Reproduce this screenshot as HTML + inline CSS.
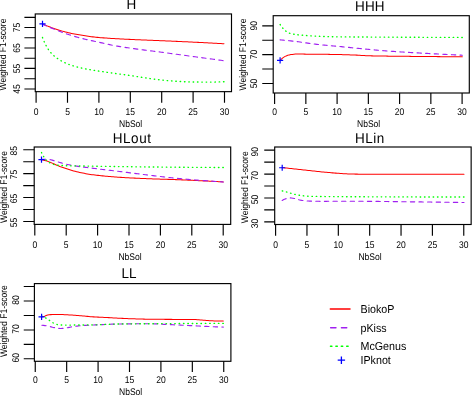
<!DOCTYPE html>
<html><head><meta charset="utf-8"><title>Weighted F1-score plots</title>
<style>html,body{margin:0;padding:0;background:#fff;overflow:hidden}svg{display:block}</style></head>
<body>
<svg width="472" height="395" viewBox="0 0 472 395" style="display:block">
<rect width="472" height="395" fill="#fff"/>
<g font-family="&quot;Liberation Sans&quot;, sans-serif" fill="#000" stroke="none" text-rendering="geometricPrecision">
<g><path d="M42.50,24.00 L44.03,24.65 L45.55,25.28 L47.08,25.89 L48.60,26.49 L50.13,27.07 L51.65,27.63 L53.18,28.18 L54.70,28.70 L56.23,29.21 L57.75,29.71 L59.28,30.19 L60.80,30.67 L62.33,31.12 L63.85,31.56 L65.38,31.97 L66.90,32.36 L68.43,32.72 L69.95,33.06 L71.48,33.39 L73.00,33.71 L74.53,34.02 L76.05,34.31 L77.58,34.60 L79.11,34.87 L80.63,35.12 L82.16,35.37 L83.68,35.60 L85.21,35.83 L86.73,36.06 L88.26,36.28 L89.78,36.49 L91.31,36.69 L92.83,36.88 L94.36,37.06 L95.88,37.22 L97.41,37.37 L98.93,37.51 L100.46,37.64 L101.98,37.76 L103.51,37.88 L105.03,37.99 L106.56,38.10 L108.08,38.20 L109.61,38.30 L111.13,38.40 L112.66,38.49 L114.18,38.58 L115.71,38.67 L117.24,38.75 L118.76,38.83 L120.29,38.91 L121.81,38.99 L123.34,39.07 L124.86,39.15 L126.39,39.22 L127.91,39.30 L129.44,39.37 L130.96,39.45 L132.49,39.52 L134.01,39.59 L135.54,39.66 L137.06,39.72 L138.59,39.79 L140.11,39.85 L141.64,39.92 L143.16,39.98 L144.69,40.04 L146.21,40.10 L147.74,40.16 L149.26,40.22 L150.79,40.27 L152.32,40.33 L153.84,40.39 L155.37,40.45 L156.89,40.52 L158.42,40.58 L159.94,40.64 L161.47,40.71 L162.99,40.77 L164.52,40.84 L166.04,40.90 L167.57,40.97 L169.09,41.04 L170.62,41.10 L172.14,41.17 L173.67,41.24 L175.19,41.30 L176.72,41.37 L178.24,41.44 L179.77,41.50 L181.29,41.57 L182.82,41.64 L184.34,41.71 L185.87,41.78 L187.39,41.85 L188.92,41.92 L190.45,42.00 L191.97,42.07 L193.50,42.14 L195.02,42.22 L196.55,42.29 L198.07,42.37 L199.60,42.45 L201.12,42.52 L202.65,42.60 L204.17,42.68 L205.70,42.76 L207.22,42.84 L208.75,42.92 L210.27,43.00 L211.80,43.08 L213.32,43.16 L214.85,43.24 L216.37,43.33 L217.90,43.41 L219.42,43.49 L220.95,43.58 L222.47,43.66 L224.00,43.75" fill="none" stroke="#ff0000" stroke-width="1.02" stroke-linecap="round"/>
<path d="M42.50,24.20 L44.03,24.88 L45.55,25.55 L47.08,26.21 L48.60,26.86 L50.13,27.51 L51.65,28.14 L53.18,28.77 L54.70,29.38 L56.23,29.99 L57.75,30.59 L59.28,31.20 L60.80,31.79 L62.33,32.37 L63.85,32.93 L65.38,33.48 L66.90,34.00 L68.43,34.50 L69.95,34.99 L71.48,35.47 L73.00,35.94 L74.53,36.39 L76.05,36.83 L77.58,37.26 L79.11,37.68 L80.63,38.09 L82.16,38.49 L83.68,38.87 L85.21,39.24 L86.73,39.59 L88.26,39.94 L89.78,40.27 L91.31,40.60 L92.83,40.93 L94.36,41.25 L95.88,41.57 L97.41,41.90 L98.93,42.23 L100.46,42.57 L101.98,42.91 L103.51,43.25 L105.03,43.60 L106.56,43.94 L108.08,44.28 L109.61,44.62 L111.13,44.95 L112.66,45.27 L114.18,45.58 L115.71,45.87 L117.24,46.15 L118.76,46.42 L120.29,46.67 L121.81,46.91 L123.34,47.14 L124.86,47.37 L126.39,47.59 L127.91,47.80 L129.44,48.02 L130.96,48.24 L132.49,48.45 L134.01,48.66 L135.54,48.87 L137.06,49.07 L138.59,49.27 L140.11,49.47 L141.64,49.67 L143.16,49.87 L144.69,50.06 L146.21,50.26 L147.74,50.45 L149.26,50.64 L150.79,50.84 L152.32,51.03 L153.84,51.23 L155.37,51.42 L156.89,51.62 L158.42,51.82 L159.94,52.02 L161.47,52.22 L162.99,52.43 L164.52,52.63 L166.04,52.84 L167.57,53.04 L169.09,53.25 L170.62,53.45 L172.14,53.66 L173.67,53.87 L175.19,54.08 L176.72,54.28 L178.24,54.49 L179.77,54.70 L181.29,54.91 L182.82,55.12 L184.34,55.33 L185.87,55.53 L187.39,55.74 L188.92,55.95 L190.45,56.16 L191.97,56.36 L193.50,56.57 L195.02,56.78 L196.55,56.98 L198.07,57.19 L199.60,57.40 L201.12,57.60 L202.65,57.81 L204.17,58.02 L205.70,58.22 L207.22,58.43 L208.75,58.64 L210.27,58.84 L211.80,59.05 L213.32,59.26 L214.85,59.46 L216.37,59.67 L217.90,59.88 L219.42,60.08 L220.95,60.29 L222.47,60.49 L224.00,60.70" fill="none" stroke="#a020f0" stroke-width="1.15" stroke-linecap="round" stroke-dasharray="4.3 4.3"/>
<path d="M42.50,37.50 L44.03,41.35 L45.55,44.60 L47.08,47.43 L48.60,49.83 L50.13,51.81 L51.65,53.58 L53.18,55.13 L54.70,56.46 L56.23,57.62 L57.75,58.70 L59.28,59.71 L60.80,60.64 L62.33,61.50 L63.85,62.29 L65.38,63.01 L66.90,63.66 L68.43,64.26 L69.95,64.81 L71.48,65.33 L73.00,65.82 L74.53,66.28 L76.05,66.71 L77.58,67.12 L79.11,67.51 L80.63,67.87 L82.16,68.22 L83.68,68.54 L85.21,68.85 L86.73,69.14 L88.26,69.42 L89.78,69.68 L91.31,69.93 L92.83,70.18 L94.36,70.42 L95.88,70.65 L97.41,70.89 L98.93,71.12 L100.46,71.35 L101.98,71.58 L103.51,71.80 L105.03,72.02 L106.56,72.24 L108.08,72.45 L109.61,72.66 L111.13,72.87 L112.66,73.08 L114.18,73.29 L115.71,73.50 L117.24,73.71 L118.76,73.93 L120.29,74.14 L121.81,74.35 L123.34,74.57 L124.86,74.78 L126.39,74.99 L127.91,75.21 L129.44,75.42 L130.96,75.64 L132.49,75.86 L134.01,76.09 L135.54,76.32 L137.06,76.56 L138.59,76.80 L140.11,77.04 L141.64,77.28 L143.16,77.52 L144.69,77.76 L146.21,78.00 L147.74,78.23 L149.26,78.46 L150.79,78.68 L152.32,78.90 L153.84,79.11 L155.37,79.31 L156.89,79.51 L158.42,79.69 L159.94,79.86 L161.47,80.02 L162.99,80.17 L164.52,80.32 L166.04,80.46 L167.57,80.60 L169.09,80.73 L170.62,80.86 L172.14,80.98 L173.67,81.10 L175.19,81.21 L176.72,81.31 L178.24,81.40 L179.77,81.49 L181.29,81.57 L182.82,81.65 L184.34,81.72 L185.87,81.80 L187.39,81.86 L188.92,81.92 L190.45,81.96 L191.97,81.99 L193.50,82.01 L195.02,82.02 L196.55,82.04 L198.07,82.05 L199.60,82.06 L201.12,82.07 L202.65,82.08 L204.17,82.09 L205.70,82.09 L207.22,82.10 L208.75,82.10 L210.27,82.10 L211.80,82.09 L213.32,82.07 L214.85,82.05 L216.37,82.01 L217.90,81.97 L219.42,81.92 L220.95,81.86 L222.47,81.81 L224.00,81.75" fill="none" stroke="#00ff00" stroke-width="1.35" stroke-linecap="round" stroke-dasharray="0.5 3.840"/>
<path d="M39.4,23.8H45.6M42.5,20.7V26.900000000000002" fill="none" stroke="#0000ff" stroke-width="1.2"/>
<rect x="35.25" y="13.95" width="196.25" height="77.70" fill="none" stroke="#000" stroke-width="1.15"/>
<path d="M24.4,17.3H35.25M24.4,27.5H35.25M24.4,37.7H35.25M24.4,48.0H35.25M24.4,58.2H35.25M24.4,68.4H35.25M24.4,78.7H35.25M24.4,89.0H35.25M36.10,91.65V102.8M67.50,91.65V102.8M98.90,91.65V102.8M130.30,91.65V102.8M161.70,91.65V102.8M193.10,91.65V102.8M224.50,91.65V102.8" fill="none" stroke="#000" stroke-width="1.15"/>
<text transform="translate(36.10,114.9) scale(0.88,1)" font-size="9.7" text-anchor="middle">0</text>
<text transform="translate(67.50,114.9) scale(0.88,1)" font-size="9.7" text-anchor="middle">5</text>
<text transform="translate(98.90,114.9) scale(0.88,1)" font-size="9.7" text-anchor="middle">10</text>
<text transform="translate(130.30,114.9) scale(0.88,1)" font-size="9.7" text-anchor="middle">15</text>
<text transform="translate(161.70,114.9) scale(0.88,1)" font-size="9.7" text-anchor="middle">20</text>
<text transform="translate(193.10,114.9) scale(0.88,1)" font-size="9.7" text-anchor="middle">25</text>
<text transform="translate(224.50,114.9) scale(0.88,1)" font-size="9.7" text-anchor="middle">30</text>
<text transform="translate(20.0,27.50) rotate(-90) scale(0.88,1)" font-size="9.7" text-anchor="middle">75</text>
<text transform="translate(20.0,48.00) rotate(-90) scale(0.88,1)" font-size="9.7" text-anchor="middle">65</text>
<text transform="translate(20.0,68.40) rotate(-90) scale(0.88,1)" font-size="9.7" text-anchor="middle">55</text>
<text transform="translate(20.0,89.00) rotate(-90) scale(0.88,1)" font-size="9.7" text-anchor="middle">45</text>
<text transform="translate(6.4,54.5) rotate(-90) scale(0.88,1)" font-size="9.7" text-anchor="middle">Weighted F1-score</text>
<text transform="translate(130.6,126.6) scale(0.88,1)" font-size="9.7" text-anchor="middle">NbSol</text>
<text transform="translate(131.43,9.45) scale(0.95,1)" font-size="14.2" letter-spacing="0.26" text-anchor="middle">H</text></g>
<g><path d="M280.10,60.30 L281.63,58.90 L283.16,57.70 L284.69,56.65 L286.22,55.90 L287.76,55.33 L289.29,54.88 L290.82,54.59 L292.35,54.39 L293.88,54.22 L295.41,54.10 L296.94,54.05 L298.47,54.05 L300.00,54.07 L301.54,54.08 L303.07,54.11 L304.60,54.13 L306.13,54.15 L307.66,54.18 L309.19,54.20 L310.72,54.21 L312.25,54.23 L313.78,54.24 L315.32,54.25 L316.85,54.27 L318.38,54.28 L319.91,54.29 L321.44,54.30 L322.97,54.31 L324.50,54.33 L326.03,54.34 L327.56,54.36 L329.09,54.38 L330.63,54.39 L332.16,54.42 L333.69,54.44 L335.22,54.47 L336.75,54.50 L338.28,54.54 L339.81,54.57 L341.34,54.61 L342.87,54.65 L344.41,54.70 L345.94,54.75 L347.47,54.79 L349.00,54.84 L350.53,54.90 L352.06,54.95 L353.59,55.01 L355.12,55.07 L356.65,55.13 L358.19,55.21 L359.72,55.30 L361.25,55.40 L362.78,55.50 L364.31,55.60 L365.84,55.69 L367.37,55.76 L368.90,55.81 L370.43,55.85 L371.97,55.88 L373.50,55.91 L375.03,55.94 L376.56,55.97 L378.09,55.99 L379.62,56.02 L381.15,56.04 L382.68,56.06 L384.21,56.08 L385.75,56.10 L387.28,56.12 L388.81,56.14 L390.34,56.15 L391.87,56.17 L393.40,56.19 L394.93,56.21 L396.46,56.23 L397.99,56.25 L399.53,56.26 L401.06,56.28 L402.59,56.30 L404.12,56.31 L405.65,56.33 L407.18,56.34 L408.71,56.36 L410.24,56.37 L411.77,56.39 L413.31,56.40 L414.84,56.42 L416.37,56.43 L417.90,56.44 L419.43,56.46 L420.96,56.47 L422.49,56.48 L424.02,56.50 L425.55,56.51 L427.08,56.52 L428.62,56.54 L430.15,56.55 L431.68,56.56 L433.21,56.58 L434.74,56.59 L436.27,56.60 L437.80,56.62 L439.33,56.63 L440.86,56.64 L442.40,56.65 L443.93,56.67 L445.46,56.68 L446.99,56.69 L448.52,56.70 L450.05,56.71 L451.58,56.72 L453.11,56.74 L454.64,56.75 L456.18,56.76 L457.71,56.77 L459.24,56.78 L460.77,56.79 L462.30,56.80" fill="none" stroke="#ff0000" stroke-width="1.02" stroke-linecap="round"/>
<path d="M280.10,39.90 L281.63,40.02 L283.16,40.15 L284.69,40.28 L286.22,40.43 L287.76,40.58 L289.29,40.73 L290.82,40.90 L292.35,41.06 L293.88,41.24 L295.41,41.41 L296.94,41.59 L298.47,41.79 L300.00,42.00 L301.54,42.22 L303.07,42.45 L304.60,42.69 L306.13,42.92 L307.66,43.15 L309.19,43.36 L310.72,43.56 L312.25,43.76 L313.78,43.95 L315.32,44.14 L316.85,44.33 L318.38,44.51 L319.91,44.68 L321.44,44.84 L322.97,45.00 L324.50,45.14 L326.03,45.27 L327.56,45.40 L329.09,45.53 L330.63,45.67 L332.16,45.81 L333.69,45.95 L335.22,46.09 L336.75,46.23 L338.28,46.38 L339.81,46.53 L341.34,46.68 L342.87,46.83 L344.41,46.98 L345.94,47.13 L347.47,47.28 L349.00,47.43 L350.53,47.59 L352.06,47.74 L353.59,47.90 L355.12,48.05 L356.65,48.20 L358.19,48.36 L359.72,48.51 L361.25,48.66 L362.78,48.81 L364.31,48.96 L365.84,49.11 L367.37,49.26 L368.90,49.40 L370.43,49.55 L371.97,49.69 L373.50,49.83 L375.03,49.97 L376.56,50.11 L378.09,50.25 L379.62,50.38 L381.15,50.51 L382.68,50.63 L384.21,50.76 L385.75,50.88 L387.28,51.00 L388.81,51.11 L390.34,51.22 L391.87,51.33 L393.40,51.44 L394.93,51.54 L396.46,51.65 L397.99,51.75 L399.53,51.85 L401.06,51.95 L402.59,52.04 L404.12,52.14 L405.65,52.23 L407.18,52.32 L408.71,52.41 L410.24,52.50 L411.77,52.59 L413.31,52.68 L414.84,52.77 L416.37,52.85 L417.90,52.94 L419.43,53.02 L420.96,53.11 L422.49,53.19 L424.02,53.28 L425.55,53.36 L427.08,53.44 L428.62,53.53 L430.15,53.61 L431.68,53.69 L433.21,53.77 L434.74,53.85 L436.27,53.93 L437.80,54.01 L439.33,54.09 L440.86,54.17 L442.40,54.25 L443.93,54.33 L445.46,54.40 L446.99,54.48 L448.52,54.55 L450.05,54.63 L451.58,54.70 L453.11,54.78 L454.64,54.85 L456.18,54.92 L457.71,54.99 L459.24,55.06 L460.77,55.13 L462.30,55.20" fill="none" stroke="#a020f0" stroke-width="1.15" stroke-linecap="round" stroke-dasharray="4.3 4.3"/>
<path d="M280.10,24.50 L281.63,26.77 L283.16,28.64 L284.69,30.22 L286.22,31.44 L287.76,32.44 L289.29,33.18 L290.82,33.63 L292.35,33.98 L293.88,34.25 L295.41,34.48 L296.94,34.68 L298.47,34.86 L300.00,35.01 L301.54,35.15 L303.07,35.28 L304.60,35.41 L306.13,35.52 L307.66,35.63 L309.19,35.73 L310.72,35.82 L312.25,35.91 L313.78,36.00 L315.32,36.08 L316.85,36.16 L318.38,36.24 L319.91,36.32 L321.44,36.40 L322.97,36.48 L324.50,36.55 L326.03,36.61 L327.56,36.67 L329.09,36.71 L330.63,36.74 L332.16,36.77 L333.69,36.79 L335.22,36.80 L336.75,36.82 L338.28,36.84 L339.81,36.86 L341.34,36.87 L342.87,36.89 L344.41,36.90 L345.94,36.91 L347.47,36.93 L349.00,36.94 L350.53,36.95 L352.06,36.96 L353.59,36.97 L355.12,36.98 L356.65,36.99 L358.19,37.00 L359.72,37.01 L361.25,37.02 L362.78,37.02 L364.31,37.03 L365.84,37.04 L367.37,37.05 L368.90,37.05 L370.43,37.06 L371.97,37.07 L373.50,37.07 L375.03,37.08 L376.56,37.09 L378.09,37.09 L379.62,37.10 L381.15,37.11 L382.68,37.11 L384.21,37.12 L385.75,37.13 L387.28,37.14 L388.81,37.14 L390.34,37.15 L391.87,37.16 L393.40,37.17 L394.93,37.18 L396.46,37.18 L397.99,37.19 L399.53,37.20 L401.06,37.21 L402.59,37.21 L404.12,37.22 L405.65,37.23 L407.18,37.24 L408.71,37.24 L410.24,37.25 L411.77,37.26 L413.31,37.27 L414.84,37.27 L416.37,37.28 L417.90,37.29 L419.43,37.29 L420.96,37.30 L422.49,37.31 L424.02,37.31 L425.55,37.32 L427.08,37.33 L428.62,37.33 L430.15,37.34 L431.68,37.35 L433.21,37.35 L434.74,37.36 L436.27,37.36 L437.80,37.37 L439.33,37.38 L440.86,37.38 L442.40,37.39 L443.93,37.39 L445.46,37.40 L446.99,37.40 L448.52,37.41 L450.05,37.41 L451.58,37.42 L453.11,37.42 L454.64,37.43 L456.18,37.43 L457.71,37.44 L459.24,37.44 L460.77,37.45 L462.30,37.45" fill="none" stroke="#00ff00" stroke-width="1.35" stroke-linecap="round" stroke-dasharray="0.5 3.816"/>
<path d="M277.0,60.3H283.20000000000005M280.1,57.199999999999996V63.4" fill="none" stroke="#0000ff" stroke-width="1.2"/>
<rect x="273.2" y="15.7" width="196.10" height="77.30" fill="none" stroke="#000" stroke-width="1.15"/>
<path d="M262.25,25.8H273.2M262.25,40.2H273.2M262.25,54.6H273.2M262.25,69.0H273.2M262.25,83.5H273.2M274.60,93.0V104.0M305.85,93.0V104.0M337.10,93.0V104.0M368.35,93.0V104.0M399.60,93.0V104.0M430.85,93.0V104.0M462.10,93.0V104.0" fill="none" stroke="#000" stroke-width="1.15"/>
<text transform="translate(274.60,114.9) scale(0.88,1)" font-size="9.7" text-anchor="middle">0</text>
<text transform="translate(305.85,114.9) scale(0.88,1)" font-size="9.7" text-anchor="middle">5</text>
<text transform="translate(337.10,114.9) scale(0.88,1)" font-size="9.7" text-anchor="middle">10</text>
<text transform="translate(368.35,114.9) scale(0.88,1)" font-size="9.7" text-anchor="middle">15</text>
<text transform="translate(399.60,114.9) scale(0.88,1)" font-size="9.7" text-anchor="middle">20</text>
<text transform="translate(430.85,114.9) scale(0.88,1)" font-size="9.7" text-anchor="middle">25</text>
<text transform="translate(462.10,114.9) scale(0.88,1)" font-size="9.7" text-anchor="middle">30</text>
<text transform="translate(257.0,25.80) rotate(-90) scale(0.88,1)" font-size="9.7" text-anchor="middle">90</text>
<text transform="translate(257.0,54.60) rotate(-90) scale(0.88,1)" font-size="9.7" text-anchor="middle">70</text>
<text transform="translate(257.0,83.50) rotate(-90) scale(0.88,1)" font-size="9.7" text-anchor="middle">50</text>
<text transform="translate(246.0,54.5) rotate(-90) scale(0.88,1)" font-size="9.7" text-anchor="middle">Weighted F1-score</text>
<text transform="translate(368.6,126.6) scale(0.88,1)" font-size="9.7" text-anchor="middle">NbSol</text>
<text transform="translate(369.88,10.6) scale(0.95,1)" font-size="14.2" letter-spacing="0.26" text-anchor="middle">HHH</text></g>
<g><path d="M41.50,159.65 L43.03,160.02 L44.56,160.42 L46.08,160.86 L47.61,161.34 L49.14,161.88 L50.67,162.48 L52.19,163.14 L53.72,163.82 L55.25,164.51 L56.78,165.19 L58.31,165.84 L59.83,166.44 L61.36,167.00 L62.89,167.54 L64.42,168.08 L65.94,168.60 L67.47,169.10 L69.00,169.58 L70.53,170.04 L72.05,170.48 L73.58,170.89 L75.11,171.29 L76.64,171.68 L78.17,172.05 L79.69,172.40 L81.22,172.74 L82.75,173.06 L84.28,173.36 L85.80,173.65 L87.33,173.91 L88.86,174.17 L90.39,174.41 L91.92,174.63 L93.44,174.83 L94.97,175.02 L96.50,175.20 L98.03,175.37 L99.55,175.54 L101.08,175.71 L102.61,175.87 L104.14,176.02 L105.66,176.17 L107.19,176.32 L108.72,176.46 L110.25,176.59 L111.78,176.72 L113.30,176.84 L114.83,176.96 L116.36,177.07 L117.89,177.18 L119.41,177.28 L120.94,177.37 L122.47,177.47 L124.00,177.56 L125.53,177.65 L127.05,177.74 L128.58,177.82 L130.11,177.90 L131.64,177.98 L133.16,178.06 L134.69,178.13 L136.22,178.21 L137.75,178.28 L139.27,178.35 L140.80,178.42 L142.33,178.48 L143.86,178.55 L145.39,178.61 L146.91,178.67 L148.44,178.73 L149.97,178.79 L151.50,178.85 L153.02,178.91 L154.55,178.97 L156.08,179.02 L157.61,179.07 L159.14,179.11 L160.66,179.16 L162.19,179.20 L163.72,179.25 L165.25,179.29 L166.77,179.34 L168.30,179.38 L169.83,179.43 L171.36,179.48 L172.88,179.53 L174.41,179.58 L175.94,179.63 L177.47,179.69 L179.00,179.75 L180.52,179.81 L182.05,179.88 L183.58,179.94 L185.11,180.01 L186.63,180.08 L188.16,180.15 L189.69,180.22 L191.22,180.29 L192.75,180.36 L194.27,180.43 L195.80,180.50 L197.33,180.57 L198.86,180.65 L200.38,180.72 L201.91,180.79 L203.44,180.87 L204.97,180.94 L206.49,181.02 L208.02,181.09 L209.55,181.17 L211.08,181.25 L212.61,181.33 L214.13,181.41 L215.66,181.49 L217.19,181.57 L218.72,181.65 L220.24,181.73 L221.77,181.82 L223.30,181.90" fill="none" stroke="#ff0000" stroke-width="1.02" stroke-linecap="round"/>
<path d="M41.50,159.50 L43.03,159.32 L44.56,159.24 L46.08,159.20 L47.61,159.20 L49.14,159.36 L50.67,159.71 L52.19,160.16 L53.72,160.59 L55.25,161.02 L56.78,161.50 L58.31,161.98 L59.83,162.45 L61.36,162.89 L62.89,163.32 L64.42,163.74 L65.94,164.13 L67.47,164.48 L69.00,164.81 L70.53,165.13 L72.05,165.42 L73.58,165.69 L75.11,165.95 L76.64,166.19 L78.17,166.42 L79.69,166.62 L81.22,166.81 L82.75,166.99 L84.28,167.16 L85.80,167.35 L87.33,167.54 L88.86,167.74 L90.39,167.94 L91.92,168.14 L93.44,168.33 L94.97,168.52 L96.50,168.71 L98.03,168.90 L99.55,169.08 L101.08,169.27 L102.61,169.45 L104.14,169.63 L105.66,169.82 L107.19,170.00 L108.72,170.18 L110.25,170.37 L111.78,170.55 L113.30,170.73 L114.83,170.92 L116.36,171.10 L117.89,171.29 L119.41,171.47 L120.94,171.66 L122.47,171.85 L124.00,172.04 L125.53,172.23 L127.05,172.42 L128.58,172.61 L130.11,172.81 L131.64,173.00 L133.16,173.19 L134.69,173.38 L136.22,173.57 L137.75,173.77 L139.27,173.96 L140.80,174.15 L142.33,174.34 L143.86,174.53 L145.39,174.71 L146.91,174.90 L148.44,175.09 L149.97,175.27 L151.50,175.45 L153.02,175.63 L154.55,175.81 L156.08,176.00 L157.61,176.18 L159.14,176.36 L160.66,176.54 L162.19,176.72 L163.72,176.90 L165.25,177.08 L166.77,177.26 L168.30,177.43 L169.83,177.60 L171.36,177.77 L172.88,177.93 L174.41,178.09 L175.94,178.25 L177.47,178.40 L179.00,178.54 L180.52,178.68 L182.05,178.82 L183.58,178.96 L185.11,179.09 L186.63,179.22 L188.16,179.35 L189.69,179.48 L191.22,179.60 L192.75,179.73 L194.27,179.85 L195.80,179.97 L197.33,180.09 L198.86,180.21 L200.38,180.33 L201.91,180.45 L203.44,180.57 L204.97,180.68 L206.49,180.80 L208.02,180.91 L209.55,181.03 L211.08,181.14 L212.61,181.25 L214.13,181.36 L215.66,181.47 L217.19,181.58 L218.72,181.69 L220.24,181.79 L221.77,181.90 L223.30,182.00" fill="none" stroke="#a020f0" stroke-width="1.15" stroke-linecap="round" stroke-dasharray="4.3 4.3"/>
<path d="M41.50,152.50 L43.03,155.47 L44.56,158.13 L46.08,159.99 L47.61,161.33 L49.14,162.39 L50.67,163.23 L52.19,163.89 L53.72,164.43 L55.25,164.80 L56.78,165.05 L58.31,165.25 L59.83,165.39 L61.36,165.49 L62.89,165.57 L64.42,165.64 L65.94,165.69 L67.47,165.74 L69.00,165.78 L70.53,165.81 L72.05,165.84 L73.58,165.87 L75.11,165.90 L76.64,165.93 L78.17,165.96 L79.69,165.98 L81.22,166.01 L82.75,166.03 L84.28,166.05 L85.80,166.08 L87.33,166.10 L88.86,166.12 L90.39,166.15 L91.92,166.17 L93.44,166.19 L94.97,166.21 L96.50,166.24 L98.03,166.26 L99.55,166.28 L101.08,166.31 L102.61,166.33 L104.14,166.35 L105.66,166.38 L107.19,166.40 L108.72,166.42 L110.25,166.45 L111.78,166.47 L113.30,166.49 L114.83,166.51 L116.36,166.54 L117.89,166.56 L119.41,166.58 L120.94,166.60 L122.47,166.63 L124.00,166.65 L125.53,166.67 L127.05,166.69 L128.58,166.71 L130.11,166.73 L131.64,166.75 L133.16,166.77 L134.69,166.79 L136.22,166.81 L137.75,166.83 L139.27,166.85 L140.80,166.87 L142.33,166.89 L143.86,166.90 L145.39,166.92 L146.91,166.94 L148.44,166.95 L149.97,166.97 L151.50,166.99 L153.02,167.00 L154.55,167.01 L156.08,167.03 L157.61,167.04 L159.14,167.06 L160.66,167.07 L162.19,167.09 L163.72,167.10 L165.25,167.11 L166.77,167.13 L168.30,167.14 L169.83,167.15 L171.36,167.17 L172.88,167.18 L174.41,167.19 L175.94,167.20 L177.47,167.22 L179.00,167.23 L180.52,167.24 L182.05,167.25 L183.58,167.27 L185.11,167.28 L186.63,167.29 L188.16,167.30 L189.69,167.31 L191.22,167.32 L192.75,167.33 L194.27,167.34 L195.80,167.36 L197.33,167.37 L198.86,167.38 L200.38,167.39 L201.91,167.39 L203.44,167.40 L204.97,167.41 L206.49,167.42 L208.02,167.43 L209.55,167.44 L211.08,167.45 L212.61,167.45 L214.13,167.46 L215.66,167.47 L217.19,167.48 L218.72,167.48 L220.24,167.49 L221.77,167.49 L223.30,167.50" fill="none" stroke="#00ff00" stroke-width="1.35" stroke-linecap="round" stroke-dasharray="0.5 3.847"/>
<path d="M38.4,159.65H44.6M41.5,156.55V162.75" fill="none" stroke="#0000ff" stroke-width="1.2"/>
<rect x="34.2" y="147.0" width="196.50" height="77.40" fill="none" stroke="#000" stroke-width="1.15"/>
<path d="M23.25,149.75H34.2M23.25,161.7H34.2M23.25,173.65H34.2M23.25,185.6H34.2M23.25,197.5H34.2M23.25,209.5H34.2M23.25,221.5H34.2M34.80,224.4V235.6M66.20,224.4V235.6M97.60,224.4V235.6M129.00,224.4V235.6M160.40,224.4V235.6M191.80,224.4V235.6M223.20,224.4V235.6" fill="none" stroke="#000" stroke-width="1.15"/>
<text transform="translate(34.80,247.8) scale(0.88,1)" font-size="9.7" text-anchor="middle">0</text>
<text transform="translate(66.20,247.8) scale(0.88,1)" font-size="9.7" text-anchor="middle">5</text>
<text transform="translate(97.60,247.8) scale(0.88,1)" font-size="9.7" text-anchor="middle">10</text>
<text transform="translate(129.00,247.8) scale(0.88,1)" font-size="9.7" text-anchor="middle">15</text>
<text transform="translate(160.40,247.8) scale(0.88,1)" font-size="9.7" text-anchor="middle">20</text>
<text transform="translate(191.80,247.8) scale(0.88,1)" font-size="9.7" text-anchor="middle">25</text>
<text transform="translate(223.20,247.8) scale(0.88,1)" font-size="9.7" text-anchor="middle">30</text>
<text transform="translate(17.1,150.65) rotate(-90) scale(0.88,1)" font-size="9.7" text-anchor="middle">85</text>
<text transform="translate(17.1,174.55) rotate(-90) scale(0.88,1)" font-size="9.7" text-anchor="middle">75</text>
<text transform="translate(17.1,198.40) rotate(-90) scale(0.88,1)" font-size="9.7" text-anchor="middle">65</text>
<text transform="translate(17.1,222.40) rotate(-90) scale(0.88,1)" font-size="9.7" text-anchor="middle">55</text>
<text transform="translate(7.3,187.0) rotate(-90) scale(0.88,1)" font-size="9.7" text-anchor="middle">Weighted F1-score</text>
<text transform="translate(130.0,259.7) scale(0.88,1)" font-size="9.7" text-anchor="middle">NbSol</text>
<text transform="translate(132.13,143.1) scale(0.95,1)" font-size="14.2" letter-spacing="0.62" text-anchor="middle">HLout</text></g>
<g><path d="M282.20,167.60 L283.73,167.76 L285.26,167.92 L286.78,168.08 L288.31,168.25 L289.84,168.41 L291.37,168.57 L292.89,168.73 L294.42,168.90 L295.95,169.06 L297.48,169.23 L299.01,169.39 L300.53,169.56 L302.06,169.73 L303.59,169.90 L305.12,170.07 L306.64,170.25 L308.17,170.42 L309.70,170.60 L311.23,170.77 L312.75,170.94 L314.28,171.11 L315.81,171.27 L317.34,171.43 L318.87,171.59 L320.39,171.74 L321.92,171.89 L323.45,172.03 L324.98,172.18 L326.50,172.33 L328.03,172.47 L329.56,172.61 L331.09,172.75 L332.62,172.88 L334.14,173.01 L335.67,173.13 L337.20,173.25 L338.73,173.36 L340.25,173.46 L341.78,173.55 L343.31,173.64 L344.84,173.73 L346.36,173.82 L347.89,173.90 L349.42,173.97 L350.95,174.03 L352.48,174.07 L354.00,174.10 L355.53,174.12 L357.06,174.13 L358.59,174.15 L360.11,174.16 L361.64,174.17 L363.17,174.19 L364.70,174.20 L366.23,174.21 L367.75,174.22 L369.28,174.22 L370.81,174.23 L372.34,174.24 L373.86,174.24 L375.39,174.25 L376.92,174.25 L378.45,174.25 L379.97,174.25 L381.50,174.25 L383.03,174.25 L384.56,174.25 L386.09,174.25 L387.61,174.25 L389.14,174.25 L390.67,174.25 L392.20,174.25 L393.72,174.25 L395.25,174.25 L396.78,174.25 L398.31,174.25 L399.84,174.25 L401.36,174.25 L402.89,174.25 L404.42,174.25 L405.95,174.25 L407.47,174.25 L409.00,174.25 L410.53,174.25 L412.06,174.25 L413.58,174.25 L415.11,174.25 L416.64,174.25 L418.17,174.25 L419.70,174.25 L421.22,174.25 L422.75,174.25 L424.28,174.25 L425.81,174.25 L427.33,174.25 L428.86,174.25 L430.39,174.25 L431.92,174.25 L433.45,174.25 L434.97,174.25 L436.50,174.25 L438.03,174.25 L439.56,174.25 L441.08,174.25 L442.61,174.25 L444.14,174.25 L445.67,174.25 L447.19,174.25 L448.72,174.25 L450.25,174.25 L451.78,174.25 L453.31,174.25 L454.83,174.25 L456.36,174.25 L457.89,174.25 L459.42,174.25 L460.94,174.25 L462.47,174.25 L464.00,174.25" fill="none" stroke="#ff0000" stroke-width="1.02" stroke-linecap="round"/>
<path d="M282.20,200.40 L283.73,199.54 L285.26,198.92 L286.78,198.42 L288.31,198.04 L289.84,197.90 L291.37,198.00 L292.89,198.22 L294.42,198.49 L295.95,198.82 L297.48,199.28 L299.01,199.76 L300.53,200.10 L302.06,200.40 L303.59,200.65 L305.12,200.84 L306.64,200.93 L308.17,201.01 L309.70,201.07 L311.23,201.13 L312.75,201.18 L314.28,201.23 L315.81,201.26 L317.34,201.28 L318.87,201.30 L320.39,201.30 L321.92,201.30 L323.45,201.30 L324.98,201.30 L326.50,201.30 L328.03,201.29 L329.56,201.29 L331.09,201.29 L332.62,201.28 L334.14,201.28 L335.67,201.28 L337.20,201.27 L338.73,201.27 L340.25,201.27 L341.78,201.26 L343.31,201.26 L344.84,201.26 L346.36,201.26 L347.89,201.25 L349.42,201.25 L350.95,201.25 L352.48,201.25 L354.00,201.25 L355.53,201.25 L357.06,201.25 L358.59,201.26 L360.11,201.26 L361.64,201.27 L363.17,201.28 L364.70,201.29 L366.23,201.30 L367.75,201.32 L369.28,201.33 L370.81,201.34 L372.34,201.36 L373.86,201.38 L375.39,201.39 L376.92,201.41 L378.45,201.43 L379.97,201.45 L381.50,201.47 L383.03,201.49 L384.56,201.51 L386.09,201.53 L387.61,201.55 L389.14,201.57 L390.67,201.59 L392.20,201.61 L393.72,201.63 L395.25,201.64 L396.78,201.66 L398.31,201.68 L399.84,201.70 L401.36,201.71 L402.89,201.73 L404.42,201.75 L405.95,201.77 L407.47,201.78 L409.00,201.80 L410.53,201.82 L412.06,201.84 L413.58,201.85 L415.11,201.87 L416.64,201.89 L418.17,201.91 L419.70,201.92 L421.22,201.94 L422.75,201.96 L424.28,201.98 L425.81,202.00 L427.33,202.02 L428.86,202.04 L430.39,202.05 L431.92,202.07 L433.45,202.09 L434.97,202.11 L436.50,202.13 L438.03,202.15 L439.56,202.17 L441.08,202.19 L442.61,202.21 L444.14,202.23 L445.67,202.25 L447.19,202.27 L448.72,202.29 L450.25,202.31 L451.78,202.33 L453.31,202.35 L454.83,202.37 L456.36,202.39 L457.89,202.41 L459.42,202.44 L460.94,202.46 L462.47,202.48 L464.00,202.50" fill="none" stroke="#a020f0" stroke-width="1.15" stroke-linecap="round" stroke-dasharray="4.3 4.3"/>
<path d="M282.20,190.90 L283.73,191.28 L285.26,191.67 L286.78,192.07 L288.31,192.49 L289.84,192.93 L291.37,193.40 L292.89,193.86 L294.42,194.27 L295.95,194.61 L297.48,194.92 L299.01,195.21 L300.53,195.44 L302.06,195.63 L303.59,195.81 L305.12,195.97 L306.64,196.11 L308.17,196.22 L309.70,196.29 L311.23,196.33 L312.75,196.37 L314.28,196.40 L315.81,196.43 L317.34,196.46 L318.87,196.48 L320.39,196.50 L321.92,196.52 L323.45,196.54 L324.98,196.55 L326.50,196.57 L328.03,196.58 L329.56,196.60 L331.09,196.61 L332.62,196.62 L334.14,196.64 L335.67,196.65 L337.20,196.66 L338.73,196.67 L340.25,196.68 L341.78,196.69 L343.31,196.70 L344.84,196.71 L346.36,196.72 L347.89,196.72 L349.42,196.73 L350.95,196.74 L352.48,196.74 L354.00,196.75 L355.53,196.76 L357.06,196.76 L358.59,196.77 L360.11,196.77 L361.64,196.78 L363.17,196.78 L364.70,196.79 L366.23,196.79 L367.75,196.80 L369.28,196.81 L370.81,196.81 L372.34,196.82 L373.86,196.82 L375.39,196.83 L376.92,196.83 L378.45,196.84 L379.97,196.84 L381.50,196.85 L383.03,196.85 L384.56,196.86 L386.09,196.86 L387.61,196.87 L389.14,196.87 L390.67,196.88 L392.20,196.88 L393.72,196.88 L395.25,196.89 L396.78,196.89 L398.31,196.90 L399.84,196.90 L401.36,196.91 L402.89,196.91 L404.42,196.91 L405.95,196.92 L407.47,196.92 L409.00,196.93 L410.53,196.93 L412.06,196.93 L413.58,196.94 L415.11,196.94 L416.64,196.94 L418.17,196.95 L419.70,196.95 L421.22,196.95 L422.75,196.96 L424.28,196.96 L425.81,196.96 L427.33,196.97 L428.86,196.97 L430.39,196.97 L431.92,196.97 L433.45,196.98 L434.97,196.98 L436.50,196.98 L438.03,196.98 L439.56,196.98 L441.08,196.99 L442.61,196.99 L444.14,196.99 L445.67,196.99 L447.19,196.99 L448.72,196.99 L450.25,196.99 L451.78,197.00 L453.31,197.00 L454.83,197.00 L456.36,197.00 L457.89,197.00 L459.42,197.00 L460.94,197.00 L462.47,197.00 L464.00,197.00" fill="none" stroke="#00ff00" stroke-width="1.35" stroke-linecap="round" stroke-dasharray="0.5 3.831"/>
<path d="M279.09999999999997,167.75H285.3M282.2,164.65V170.85" fill="none" stroke="#0000ff" stroke-width="1.2"/>
<rect x="274.7" y="147.0" width="196.45" height="77.50" fill="none" stroke="#000" stroke-width="1.15"/>
<path d="M264.25,150.1H274.7M264.25,162.1H274.7M264.25,174.1H274.7M264.25,186.0H274.7M264.25,198.0H274.7M264.25,209.9H274.7M264.25,221.9H274.7M275.60,224.5V235.7M306.96,224.5V235.7M338.32,224.5V235.7M369.68,224.5V235.7M401.04,224.5V235.7M432.40,224.5V235.7M463.76,224.5V235.7" fill="none" stroke="#000" stroke-width="1.15"/>
<text transform="translate(275.60,247.8) scale(0.88,1)" font-size="9.7" text-anchor="middle">0</text>
<text transform="translate(306.96,247.8) scale(0.88,1)" font-size="9.7" text-anchor="middle">5</text>
<text transform="translate(338.32,247.8) scale(0.88,1)" font-size="9.7" text-anchor="middle">10</text>
<text transform="translate(369.68,247.8) scale(0.88,1)" font-size="9.7" text-anchor="middle">15</text>
<text transform="translate(401.04,247.8) scale(0.88,1)" font-size="9.7" text-anchor="middle">20</text>
<text transform="translate(432.40,247.8) scale(0.88,1)" font-size="9.7" text-anchor="middle">25</text>
<text transform="translate(463.76,247.8) scale(0.88,1)" font-size="9.7" text-anchor="middle">30</text>
<text transform="translate(258.2,151.70) rotate(-90) scale(0.88,1)" font-size="9.7" text-anchor="middle">90</text>
<text transform="translate(258.2,175.70) rotate(-90) scale(0.88,1)" font-size="9.7" text-anchor="middle">70</text>
<text transform="translate(258.2,199.60) rotate(-90) scale(0.88,1)" font-size="9.7" text-anchor="middle">50</text>
<text transform="translate(258.2,223.50) rotate(-90) scale(0.88,1)" font-size="9.7" text-anchor="middle">30</text>
<text transform="translate(247.6,187.3) rotate(-90) scale(0.88,1)" font-size="9.7" text-anchor="middle">Weighted F1-score</text>
<text transform="translate(370.0,259.7) scale(0.88,1)" font-size="9.7" text-anchor="middle">NbSol</text>
<text transform="translate(369.93,143.1) scale(0.95,1)" font-size="14.2" letter-spacing="0.5" text-anchor="middle">HLin</text></g>
<g><path d="M41.60,316.90 L43.13,316.62 L44.65,316.22 L46.18,315.55 L47.71,315.06 L49.23,314.82 L50.76,314.62 L52.29,314.49 L53.82,314.45 L55.34,314.45 L56.87,314.46 L58.40,314.48 L59.92,314.50 L61.45,314.53 L62.98,314.59 L64.50,314.66 L66.03,314.74 L67.56,314.82 L69.08,314.91 L70.61,315.00 L72.14,315.11 L73.66,315.22 L75.19,315.33 L76.72,315.45 L78.25,315.56 L79.77,315.68 L81.30,315.81 L82.83,315.95 L84.35,316.09 L85.88,316.23 L87.41,316.37 L88.93,316.51 L90.46,316.64 L91.99,316.76 L93.51,316.87 L95.04,316.96 L96.57,317.04 L98.09,317.12 L99.62,317.19 L101.15,317.25 L102.68,317.32 L104.20,317.39 L105.73,317.46 L107.26,317.54 L108.78,317.62 L110.31,317.71 L111.84,317.80 L113.36,317.89 L114.89,317.98 L116.42,318.06 L117.94,318.15 L119.47,318.22 L121.00,318.30 L122.53,318.37 L124.05,318.44 L125.58,318.52 L127.11,318.58 L128.63,318.65 L130.16,318.70 L131.69,318.76 L133.21,318.81 L134.74,318.86 L136.27,318.91 L137.79,318.96 L139.32,319.00 L140.85,319.05 L142.37,319.09 L143.90,319.13 L145.43,319.17 L146.96,319.21 L148.48,319.24 L150.01,319.26 L151.54,319.28 L153.06,319.30 L154.59,319.31 L156.12,319.32 L157.64,319.33 L159.17,319.34 L160.70,319.35 L162.22,319.36 L163.75,319.36 L165.28,319.37 L166.81,319.37 L168.33,319.37 L169.86,319.38 L171.39,319.38 L172.91,319.39 L174.44,319.39 L175.97,319.39 L177.49,319.40 L179.02,319.40 L180.55,319.41 L182.07,319.41 L183.60,319.42 L185.13,319.43 L186.65,319.43 L188.18,319.45 L189.71,319.46 L191.24,319.47 L192.76,319.48 L194.29,319.50 L195.82,319.55 L197.34,319.66 L198.87,319.81 L200.40,319.96 L201.92,320.11 L203.45,320.23 L204.98,320.35 L206.50,320.47 L208.03,320.59 L209.56,320.69 L211.08,320.77 L212.61,320.83 L214.14,320.89 L215.67,320.94 L217.19,320.99 L218.72,321.04 L220.25,321.07 L221.77,321.09 L223.30,321.10" fill="none" stroke="#ff0000" stroke-width="1.02" stroke-linecap="round"/>
<path d="M41.90,325.25 L43.42,325.40 L44.95,325.60 L46.47,325.83 L48.00,326.09 L49.52,326.44 L51.05,326.85 L52.57,327.24 L54.09,327.57 L55.62,327.89 L57.14,328.20 L58.67,328.43 L60.19,328.50 L61.72,328.43 L63.24,328.29 L64.77,328.10 L66.29,327.89 L67.81,327.64 L69.34,327.33 L70.86,327.00 L72.39,326.72 L73.91,326.49 L75.44,326.28 L76.96,326.09 L78.48,325.93 L80.01,325.78 L81.53,325.65 L83.06,325.53 L84.58,325.42 L86.11,325.34 L87.63,325.27 L89.16,325.20 L90.68,325.14 L92.20,325.08 L93.73,325.01 L95.25,324.94 L96.78,324.87 L98.30,324.79 L99.83,324.71 L101.35,324.63 L102.87,324.56 L104.40,324.49 L105.92,324.42 L107.45,324.36 L108.97,324.31 L110.50,324.25 L112.02,324.19 L113.55,324.14 L115.07,324.09 L116.59,324.05 L118.12,324.02 L119.64,323.99 L121.17,323.96 L122.69,323.93 L124.22,323.91 L125.74,323.88 L127.26,323.86 L128.79,323.84 L130.31,323.82 L131.84,323.80 L133.36,323.78 L134.89,323.77 L136.41,323.76 L137.94,323.75 L139.46,323.75 L140.98,323.75 L142.51,323.75 L144.03,323.76 L145.56,323.76 L147.08,323.77 L148.61,323.77 L150.13,323.78 L151.65,323.79 L153.18,323.80 L154.70,323.83 L156.23,323.88 L157.75,323.95 L159.28,324.04 L160.80,324.13 L162.33,324.22 L163.85,324.31 L165.37,324.39 L166.90,324.47 L168.42,324.54 L169.95,324.61 L171.47,324.69 L173.00,324.76 L174.52,324.83 L176.04,324.91 L177.57,324.98 L179.09,325.05 L180.62,325.12 L182.14,325.20 L183.67,325.27 L185.19,325.34 L186.72,325.41 L188.24,325.49 L189.76,325.56 L191.29,325.64 L192.81,325.72 L194.34,325.80 L195.86,325.88 L197.39,325.96 L198.91,326.05 L200.43,326.12 L201.96,326.20 L203.48,326.27 L205.01,326.34 L206.53,326.41 L208.06,326.48 L209.58,326.55 L211.11,326.62 L212.63,326.68 L214.15,326.75 L215.68,326.81 L217.20,326.87 L218.73,326.93 L220.25,326.99 L221.78,327.04 L223.30,327.10" fill="none" stroke="#a020f0" stroke-width="1.15" stroke-linecap="round" stroke-dasharray="4.3 4.3"/>
<path d="M41.60,316.20 L43.13,316.75 L44.65,317.43 L46.18,318.27 L47.71,319.30 L49.23,320.32 L50.76,321.39 L52.29,322.38 L53.82,323.24 L55.34,323.99 L56.87,324.46 L58.40,324.81 L59.92,325.00 L61.45,325.04 L62.98,325.07 L64.50,325.09 L66.03,325.10 L67.56,325.10 L69.08,325.09 L70.61,325.08 L72.14,325.06 L73.66,325.05 L75.19,325.03 L76.72,325.02 L78.25,325.00 L79.77,324.99 L81.30,324.98 L82.83,324.98 L84.35,324.97 L85.88,324.96 L87.41,324.95 L88.93,324.94 L90.46,324.93 L91.99,324.92 L93.51,324.91 L95.04,324.88 L96.57,324.84 L98.09,324.78 L99.62,324.72 L101.15,324.64 L102.68,324.57 L104.20,324.49 L105.73,324.43 L107.26,324.37 L108.78,324.32 L110.31,324.26 L111.84,324.20 L113.36,324.15 L114.89,324.10 L116.42,324.05 L117.94,324.02 L119.47,323.99 L121.00,323.97 L122.53,323.95 L124.05,323.93 L125.58,323.91 L127.11,323.90 L128.63,323.88 L130.16,323.86 L131.69,323.85 L133.21,323.84 L134.74,323.82 L136.27,323.81 L137.79,323.80 L139.32,323.79 L140.85,323.78 L142.37,323.77 L143.90,323.76 L145.43,323.75 L146.96,323.74 L148.48,323.73 L150.01,323.72 L151.54,323.71 L153.06,323.70 L154.59,323.69 L156.12,323.68 L157.64,323.67 L159.17,323.66 L160.70,323.65 L162.22,323.64 L163.75,323.63 L165.28,323.62 L166.81,323.61 L168.33,323.60 L169.86,323.60 L171.39,323.59 L172.91,323.58 L174.44,323.57 L175.97,323.56 L177.49,323.56 L179.02,323.55 L180.55,323.54 L182.07,323.53 L183.60,323.53 L185.13,323.52 L186.65,323.51 L188.18,323.51 L189.71,323.50 L191.24,323.50 L192.76,323.49 L194.29,323.48 L195.82,323.48 L197.34,323.47 L198.87,323.47 L200.40,323.46 L201.92,323.46 L203.45,323.45 L204.98,323.45 L206.50,323.44 L208.03,323.44 L209.56,323.43 L211.08,323.43 L212.61,323.42 L214.14,323.42 L215.67,323.42 L217.19,323.41 L218.72,323.41 L220.25,323.41 L221.77,323.40 L223.30,323.40" fill="none" stroke="#00ff00" stroke-width="1.35" stroke-linecap="round" stroke-dasharray="0.5 3.868"/>
<path d="M38.5,316.9H44.7M41.6,313.79999999999995V320.0" fill="none" stroke="#0000ff" stroke-width="1.2"/>
<rect x="34.4" y="283.6" width="196.50" height="77.70" fill="none" stroke="#000" stroke-width="1.15"/>
<path d="M23.75,286.5H34.4M23.75,301.0H34.4M23.75,315.45H34.4M23.75,329.95H34.4M23.75,344.35H34.4M23.75,358.7H34.4M35.25,361.3V372.0M66.67,361.3V372.0M98.08,361.3V372.0M129.50,361.3V372.0M160.91,361.3V372.0M192.33,361.3V372.0M223.74,361.3V372.0" fill="none" stroke="#000" stroke-width="1.15"/>
<text transform="translate(35.25,382.8) scale(0.88,1)" font-size="9.7" text-anchor="middle">0</text>
<text transform="translate(66.67,382.8) scale(0.88,1)" font-size="9.7" text-anchor="middle">5</text>
<text transform="translate(98.08,382.8) scale(0.88,1)" font-size="9.7" text-anchor="middle">10</text>
<text transform="translate(129.50,382.8) scale(0.88,1)" font-size="9.7" text-anchor="middle">15</text>
<text transform="translate(160.91,382.8) scale(0.88,1)" font-size="9.7" text-anchor="middle">20</text>
<text transform="translate(192.33,382.8) scale(0.88,1)" font-size="9.7" text-anchor="middle">25</text>
<text transform="translate(223.74,382.8) scale(0.88,1)" font-size="9.7" text-anchor="middle">30</text>
<text transform="translate(18.9,300.00) rotate(-90) scale(0.88,1)" font-size="9.7" text-anchor="middle">80</text>
<text transform="translate(18.9,328.95) rotate(-90) scale(0.88,1)" font-size="9.7" text-anchor="middle">70</text>
<text transform="translate(18.9,357.70) rotate(-90) scale(0.88,1)" font-size="9.7" text-anchor="middle">60</text>
<text transform="translate(6.6,321.1) rotate(-90) scale(0.88,1)" font-size="9.7" text-anchor="middle">Weighted F1-score</text>
<text transform="translate(130.6,394.5) scale(0.88,1)" font-size="9.7" text-anchor="middle">NbSol</text>
<text transform="translate(129.13,277.6) scale(0.95,1)" font-size="14.2" letter-spacing="0.26" text-anchor="middle">LL</text></g>
<path d="M330.3,309H350" fill="none" stroke="#ff0000" stroke-width="1.5" stroke-linecap="round"/>
<path d="M330.6,327.75H350" fill="none" stroke="#a020f0" stroke-width="1.35" stroke-linecap="round" stroke-dasharray="5.40 5.40"/>
<path d="M330.45,346.25H350" fill="none" stroke="#00ff00" stroke-width="1.4" stroke-linecap="round" stroke-dasharray="1.5 3.9"/>
<path d="M337.7,360.2H345.1M341.4,356.5V363.9" fill="none" stroke="#0000ff" stroke-width="1.3"/>
<text transform="translate(360.5,313.2) scale(0.93,1)" font-size="11.5">BiokoP</text>
<text transform="translate(360.5,331.7) scale(0.93,1)" font-size="11.5">pKiss</text>
<text transform="translate(360.5,350.25) scale(0.93,1)" font-size="11.5">McGenus</text>
<text transform="translate(360.5,363.75) scale(0.93,1)" font-size="11.5">IPknot</text>
</g></svg>
</body></html>
